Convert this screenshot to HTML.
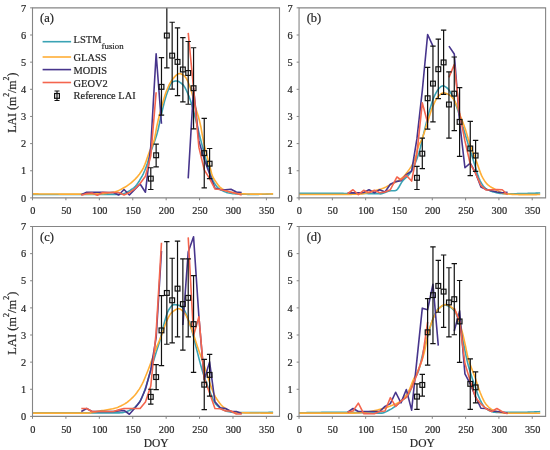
<!DOCTYPE html>
<html lang="en"><head><meta charset="utf-8"><title>LAI time series</title>
<style>
html,body{margin:0;padding:0;background:#fff;}
body{width:550px;height:450px;overflow:hidden;font-family:"Liberation Serif","Times New Roman",serif;}
svg{display:block;}
</style></head><body>
<svg width="550" height="450" viewBox="0 0 550 450" font-family="'Liberation Serif', 'Times New Roman', serif" fill="#262626" stroke="#262626" stroke-width="0.2" paint-order="stroke">
<g id="panel-a">
<clipPath id="clipa"><rect x="32.5" y="7.85" width="247" height="190.05"/></clipPath>
<g clip-path="url(#clipa)">
<polyline points="32.5,194.51 33.84,194.51 35.17,194.51 36.51,194.51 37.85,194.51 39.18,194.51 40.52,194.51 41.86,194.51 43.19,194.51 44.53,194.51 45.87,194.51 47.2,194.51 48.54,194.51 49.88,194.51 51.21,194.51 52.55,194.51 53.89,194.51 55.22,194.51 56.56,194.51 57.9,194.51 59.23,194.51 60.57,194.51 61.91,194.51 63.24,194.51 64.58,194.51 65.91,194.51 67.25,194.51 68.59,194.51 69.92,194.51 71.26,194.51 72.6,194.51 73.93,194.51 75.27,194.51 76.61,194.51 77.94,194.51 79.28,194.5 80.62,194.5 81.95,194.5 83.29,194.5 84.63,194.5 85.96,194.5 87.3,194.5 88.64,194.49 89.97,194.49 91.31,194.49 92.65,194.49 93.98,194.48 95.32,194.48 96.66,194.48 97.99,194.47 99.33,194.47 100.67,194.47 102,194.46 103.34,194.46 104.68,194.45 106.01,194.45 107.35,194.44 108.69,194.43 110.02,194.43 111.36,194.42 112.7,194.41 114.03,194.4 115.37,194.4 116.71,194.39 118.04,194.38 119.38,194.37 120.72,194.28 122.05,194.05 123.39,193.69 124.73,193.21 126.06,192.63 127.4,191.95 128.74,191.2 130.07,190.38 131.41,189.5 132.75,188.59 134.08,187.61 135.42,186.31 136.75,184.69 138.09,182.8 139.43,180.7 140.76,178.43 142.1,176.04 143.44,173.52 144.77,170.54 146.11,167.14 147.45,163.34 148.78,158.85 150.12,154.2 151.46,149.99 152.79,146.22 154.13,142.6 155.47,138.83 156.8,134.62 158.14,129.52 159.48,123.27 160.81,116.89 162.15,111.15 163.49,105.48 164.82,100.17 166.16,95.68 167.5,91.99 168.83,88.42 170.17,85.28 171.51,82.92 172.84,81.7 174.18,81.22 175.52,80.93 176.85,80.94 178.19,81.33 179.53,82.04 180.86,82.99 182.2,84.1 183.54,85.39 184.87,87.4 186.21,90 187.55,92.94 188.88,96.08 190.22,99.83 191.56,104.05 192.89,108.62 194.23,113.74 195.57,119.18 196.9,124.65 198.24,129.95 199.57,135.31 200.91,140.67 202.25,145.92 203.58,150.93 204.92,155.79 206.26,160.58 207.59,165.19 208.93,169.52 210.27,173.47 211.6,177.08 212.94,180.27 214.28,182.82 215.61,185.05 216.95,186.89 218.29,188.19 219.62,189.15 220.96,189.94 222.3,190.61 223.63,191.24 224.97,191.84 226.31,192.37 227.64,192.74 228.98,193 230.32,193.25 231.65,193.46 232.99,193.65 234.33,193.81 235.66,193.94 237,194.04 238.34,194.1 239.67,194.14 241.01,194.18 242.35,194.22 243.68,194.25 245.02,194.28 246.36,194.31 247.69,194.33 249.03,194.35 250.37,194.36 251.7,194.37 253.04,194.37 254.38,194.37 255.71,194.36 257.05,194.35 258.39,194.33 259.72,194.31 261.06,194.29 262.4,194.26 263.73,194.23 265.07,194.19 266.4,194.14 267.74,194.1 269.08,194.04 270.41,193.99 271.75,193.93 273.09,193.86" fill="none" stroke="#3AA3B4" stroke-width="1.6" stroke-linejoin="round" stroke-linecap="butt"/>
<polyline points="32.5,193.83 33.84,193.85 35.17,193.87 36.51,193.89 37.85,193.91 39.18,193.93 40.52,193.94 41.86,193.96 43.19,193.97 44.53,193.99 45.87,194 47.2,194.01 48.54,194.02 49.88,194.03 51.21,194.04 52.55,194.05 53.89,194.06 55.22,194.06 56.56,194.07 57.9,194.07 59.23,194.08 60.57,194.08 61.91,194.09 63.24,194.09 64.58,194.09 65.91,194.09 67.25,194.1 68.59,194.1 69.92,194.1 71.26,194.1 72.6,194.1 73.93,194.1 75.27,194.1 76.61,194.09 77.94,194.09 79.28,194.08 80.62,194.07 81.95,194.07 83.29,194.06 84.63,194.04 85.96,194.03 87.3,194.02 88.64,194 89.97,193.98 91.31,193.97 92.65,193.95 93.98,193.93 95.32,193.9 96.66,193.88 97.99,193.85 99.33,193.83 100.67,193.79 102,193.71 103.34,193.62 104.68,193.49 106.01,193.34 107.35,193.18 108.69,192.99 110.02,192.78 111.36,192.56 112.7,192.32 114.03,192.06 115.37,191.7 116.71,191.25 118.04,190.72 119.38,190.12 120.72,189.47 122.05,188.77 123.39,188.05 124.73,187.31 126.06,186.53 127.4,185.66 128.74,184.72 130.07,183.69 131.41,182.59 132.75,181.41 134.08,180.16 135.42,178.84 136.75,177.41 138.09,175.86 139.43,174.17 140.76,172.3 142.1,170.23 143.44,167.87 144.77,164.79 146.11,161.19 147.45,157.36 148.78,153.57 150.12,150.12 151.46,147.3 152.79,144.5 154.13,140.54 155.47,133.85 156.8,126.38 158.14,120.3 159.48,114.82 160.81,109.71 162.15,104.88 163.49,100.16 164.82,95.69 166.16,91.78 167.5,88.5 168.83,85.48 170.17,82.84 171.51,80.68 172.84,78.99 174.18,77.37 175.52,75.89 176.85,74.67 178.19,73.85 179.53,73.55 180.86,73.79 182.2,74.44 183.54,75.36 184.87,76.45 186.21,78.22 187.55,80.81 188.88,83.96 190.22,87.4 191.56,91.6 192.89,96.78 194.23,102.29 195.57,107.49 196.9,112.02 198.24,116.34 199.57,121.08 200.91,126.98 202.25,134.54 203.58,141.7 204.92,147.58 206.26,152.98 207.59,158.08 208.93,163.04 210.27,168.03 211.6,173.42 212.94,177.2 214.28,179.51 215.61,181.4 216.95,183.37 218.29,185.28 219.62,186.88 220.96,188 222.3,188.91 223.63,189.65 224.97,190.26 226.31,190.8 227.64,191.27 228.98,191.69 230.32,192.04 231.65,192.34 232.99,192.63 234.33,192.9 235.66,193.14 237,193.35 238.34,193.52 239.67,193.65 241.01,193.73 242.35,193.8 243.68,193.86 245.02,193.92 246.36,193.97 247.69,194.02 249.03,194.05 250.37,194.08 251.7,194.09 253.04,194.1 254.38,194.1 255.71,194.1 257.05,194.1 258.39,194.09 259.72,194.09 261.06,194.08 262.4,194.07 263.73,194.06 265.07,194.05 266.4,194.03 267.74,194 269.08,193.97 270.41,193.94 271.75,193.9 273.09,193.85" fill="none" stroke="#FFAE35" stroke-width="1.6" stroke-linejoin="round" stroke-linecap="butt"/>
<polyline points="81.29,194.64 86.63,192.2 91.98,192.2 97.33,192.2 102.67,192.2 108.02,192.47 113.36,192.47 118.71,194.99 124.06,189.48 129.4,194.99 134.75,189.48 140.1,184.05 145.44,192.2 150.79,146.31 156.14,53.73 161.48,123.78" fill="none" stroke="#47358C" stroke-width="1.6" stroke-linejoin="round" stroke-linecap="butt"/>
<polyline points="188.21,178.35 193.56,88.21 198.91,140.88 204.25,159.35 209.6,174.01 214.95,188.4 220.29,189.48 225.64,189.75 230.99,189.21 236.33,191.93 241.68,192.47" fill="none" stroke="#47358C" stroke-width="1.6" stroke-linejoin="round" stroke-linecap="butt"/>
<polyline points="81.29,195.19 86.63,193.56 91.98,193.01 97.33,195.19 102.67,192.47 108.02,192.47 113.36,192.47 118.71,192.47 124.06,194.99 129.4,192.47 134.75,188.94 140.1,183.51 145.44,176.18 150.79,155.82 156.14,92.29" fill="none" stroke="#F4654E" stroke-width="1.6" stroke-linejoin="round" stroke-linecap="butt"/>
<polyline points="188.21,32.83 193.56,88.21 198.91,147.4 204.25,169.94 209.6,178.62 214.95,188.94 220.29,189.48 225.64,190.84 230.99,192.2 236.33,193.56 241.68,194.91" fill="none" stroke="#F4654E" stroke-width="1.6" stroke-linejoin="round" stroke-linecap="butt"/>
<path d="M150.79 167.76V189.48M148.09 167.76h5.4M148.09 189.48h5.4" stroke="#111" stroke-width="1.2" fill="none"/>
<rect x="148.39" y="176.22" width="4.8" height="4.8" fill="none" stroke="#111" stroke-width="1.2"/>
<path d="M156.14 144.14V166.95M153.44 144.14h5.4M153.44 166.95h5.4" stroke="#111" stroke-width="1.2" fill="none"/>
<rect x="153.74" y="152.87" width="4.8" height="4.8" fill="none" stroke="#111" stroke-width="1.2"/>
<path d="M161.48 57.53V115.09M158.78 57.53h5.4M158.78 115.09h5.4" stroke="#111" stroke-width="1.2" fill="none"/>
<rect x="159.08" y="84.46" width="4.8" height="4.8" fill="none" stroke="#111" stroke-width="1.2"/>
<path d="M166.83 -0.3V67.85M164.13 -0.3h5.4M164.13 67.85h5.4" stroke="#111" stroke-width="1.2" fill="none"/>
<rect x="164.43" y="33.14" width="4.8" height="4.8" fill="none" stroke="#111" stroke-width="1.2"/>
<path d="M172.17 22.24V89.03M169.47 22.24h5.4M169.47 89.03h5.4" stroke="#111" stroke-width="1.2" fill="none"/>
<rect x="169.77" y="53.23" width="4.8" height="4.8" fill="none" stroke="#111" stroke-width="1.2"/>
<path d="M177.52 27.94V95.54M174.82 27.94h5.4M174.82 95.54h5.4" stroke="#111" stroke-width="1.2" fill="none"/>
<rect x="175.12" y="59.48" width="4.8" height="4.8" fill="none" stroke="#111" stroke-width="1.2"/>
<path d="M182.87 37.72V101.79M180.17 37.72h5.4M180.17 101.79h5.4" stroke="#111" stroke-width="1.2" fill="none"/>
<rect x="180.47" y="67.08" width="4.8" height="4.8" fill="none" stroke="#111" stroke-width="1.2"/>
<path d="M188.21 41.52V104.23M185.51 41.52h5.4M185.51 104.23h5.4" stroke="#111" stroke-width="1.2" fill="none"/>
<rect x="185.81" y="70.61" width="4.8" height="4.8" fill="none" stroke="#111" stroke-width="1.2"/>
<path d="M193.56 47.76V128.94M190.86 47.76h5.4M190.86 128.94h5.4" stroke="#111" stroke-width="1.2" fill="none"/>
<rect x="191.16" y="85.81" width="4.8" height="4.8" fill="none" stroke="#111" stroke-width="1.2"/>
<path d="M204.25 118.35V187.85M201.55 118.35h5.4M201.55 187.85h5.4" stroke="#111" stroke-width="1.2" fill="none"/>
<rect x="201.85" y="150.7" width="4.8" height="4.8" fill="none" stroke="#111" stroke-width="1.2"/>
<path d="M209.6 148.49V178.62M206.9 148.49h5.4M206.9 178.62h5.4" stroke="#111" stroke-width="1.2" fill="none"/>
<rect x="207.2" y="161.29" width="4.8" height="4.8" fill="none" stroke="#111" stroke-width="1.2"/>
</g>
<path d="M32.5 7.85H279.5V197.9H32.5Z" fill="none" stroke="#858585" stroke-width="1.1"/>
<path d="M32.5 197.9h-2.4M32.5 170.75h-2.4M32.5 143.6h-2.4M32.5 116.45h-2.4M32.5 89.3h-2.4M32.5 62.15h-2.4M32.5 35h-2.4M32.5 7.85h-2.4M32.5 197.9v2.4M65.91 197.9v2.4M99.33 197.9v2.4M132.75 197.9v2.4M166.16 197.9v2.4M199.57 197.9v2.4M232.99 197.9v2.4M266.4 197.9v2.4" stroke="#858585" stroke-width="1" fill="none"/>
<text x="26.2" y="201.6" text-anchor="end" font-size="10.3">0</text>
<text x="26.2" y="174.45" text-anchor="end" font-size="10.3">1</text>
<text x="26.2" y="147.3" text-anchor="end" font-size="10.3">2</text>
<text x="26.2" y="120.15" text-anchor="end" font-size="10.3">3</text>
<text x="26.2" y="93" text-anchor="end" font-size="10.3">4</text>
<text x="26.2" y="65.85" text-anchor="end" font-size="10.3">5</text>
<text x="26.2" y="38.7" text-anchor="end" font-size="10.3">6</text>
<text x="26.2" y="11.55" text-anchor="end" font-size="10.3">7</text>
<text x="32.9" y="214.1" text-anchor="middle" font-size="10.3">0</text>
<text x="66.31" y="214.1" text-anchor="middle" font-size="10.3">50</text>
<text x="99.73" y="214.1" text-anchor="middle" font-size="10.3">100</text>
<text x="133.15" y="214.1" text-anchor="middle" font-size="10.3">150</text>
<text x="166.56" y="214.1" text-anchor="middle" font-size="10.3">200</text>
<text x="199.97" y="214.1" text-anchor="middle" font-size="10.3">250</text>
<text x="233.39" y="214.1" text-anchor="middle" font-size="10.3">300</text>
<text x="266.8" y="214.1" text-anchor="middle" font-size="10.3">350</text>
<text x="40.1" y="22.05" font-size="12.5">(a)</text>
</g>
<g id="panel-b">
<clipPath id="clipb"><rect x="299.05" y="7.85" width="246.55" height="190.05"/></clipPath>
<g clip-path="url(#clipb)">
<polyline points="299.05,193.42 300.38,193.42 301.71,193.42 303.05,193.42 304.38,193.42 305.71,193.42 307.04,193.42 308.38,193.42 309.71,193.42 311.04,193.42 312.37,193.42 313.71,193.42 315.04,193.42 316.37,193.42 317.7,193.42 319.04,193.42 320.37,193.42 321.7,193.42 323.03,193.42 324.37,193.42 325.7,193.42 327.03,193.42 328.36,193.42 329.7,193.42 331.03,193.42 332.36,193.42 333.69,193.42 335.02,193.42 336.36,193.42 337.69,193.42 339.02,193.42 340.35,193.42 341.69,193.42 343.02,193.42 344.35,193.43 345.68,193.43 347.02,193.44 348.35,193.44 349.68,193.45 351.01,193.45 352.35,193.46 353.68,193.47 355.01,193.48 356.34,193.48 357.68,193.49 359.01,193.5 360.34,193.51 361.67,193.52 363.01,193.53 364.34,193.55 365.67,193.56 367,193.57 368.33,193.59 369.67,193.62 371,193.65 372.33,193.68 373.66,193.72 375,193.75 376.33,193.78 377.66,193.8 378.99,193.82 380.33,193.83 381.66,193.76 382.99,193.35 384.32,192.74 385.66,192.2 386.99,191.71 388.32,191.23 389.65,190.89 390.99,190.78 392.32,190.72 393.65,190.68 394.98,190.62 396.32,190.34 397.65,189.05 398.98,187 400.31,184.6 401.64,182.3 402.98,180.49 404.31,179.08 405.64,177.83 406.97,176.61 408.31,175.28 409.64,173.72 410.97,171.79 412.3,169.42 413.64,166.7 414.97,163.75 416.3,160.46 417.63,156.77 418.97,152.67 420.3,147.89 421.63,142.33 422.96,136.58 424.3,131.11 425.63,125.57 426.96,120.1 428.29,114.92 429.63,110.24 430.96,105.76 432.29,101.55 433.62,97.85 434.95,94.86 436.29,92.31 437.62,90.13 438.95,88.47 440.28,87.23 441.62,86.2 442.95,85.77 444.28,86.07 445.61,86.83 446.95,87.84 448.28,89.07 449.61,90.92 450.94,93.23 452.28,95.83 453.61,98.62 454.94,101.96 456.27,105.65 457.61,109.52 458.94,113.69 460.27,118.03 461.6,122.42 462.94,126.77 464.27,131.2 465.6,135.65 466.93,140.07 468.26,144.39 469.6,148.65 470.93,152.86 472.26,157.02 473.59,161.18 474.93,165.61 476.26,170.1 477.59,174.36 478.92,178.11 480.26,181.07 481.59,183.43 482.92,185.52 484.25,187.22 485.59,188.4 486.92,189.23 488.25,189.96 489.58,190.59 490.92,191.14 492.25,191.61 493.58,192 494.91,192.33 496.25,192.61 497.58,192.87 498.91,193.12 500.24,193.35 501.57,193.55 502.91,193.7 504.24,193.79 505.57,193.83 506.9,193.82 508.24,193.82 509.57,193.8 510.9,193.79 512.23,193.77 513.57,193.74 514.9,193.72 516.23,193.69 517.56,193.66 518.9,193.63 520.23,193.6 521.56,193.57 522.89,193.54 524.23,193.51 525.56,193.48 526.89,193.44 528.22,193.41 529.56,193.37 530.89,193.33 532.22,193.29 533.55,193.25 534.88,193.2 536.22,193.16 537.55,193.11 538.88,193.06 540.21,193.01" fill="none" stroke="#3AA3B4" stroke-width="1.6" stroke-linejoin="round" stroke-linecap="butt"/>
<polyline points="299.05,194.51 300.38,194.51 301.71,194.51 303.05,194.51 304.38,194.51 305.71,194.51 307.04,194.51 308.38,194.51 309.71,194.51 311.04,194.51 312.37,194.51 313.71,194.51 315.04,194.51 316.37,194.51 317.7,194.51 319.04,194.51 320.37,194.51 321.7,194.51 323.03,194.51 324.37,194.51 325.7,194.51 327.03,194.51 328.36,194.51 329.7,194.51 331.03,194.51 332.36,194.51 333.69,194.51 335.02,194.51 336.36,194.51 337.69,194.51 339.02,194.51 340.35,194.5 341.69,194.5 343.02,194.49 344.35,194.48 345.68,194.46 347.02,194.44 348.35,194.41 349.68,194.39 351.01,194.36 352.35,194.32 353.68,194.28 355.01,194.24 356.34,194.2 357.68,194.15 359.01,194.1 360.34,194.01 361.67,193.85 363.01,193.64 364.34,193.38 365.67,193.08 367,192.76 368.33,192.42 369.67,192.07 371,191.72 372.33,191.38 373.66,191.05 375,190.71 376.33,190.35 377.66,189.98 378.99,189.58 380.33,189.16 381.66,188.72 382.99,188.24 384.32,187.72 385.66,187.11 386.99,186.43 388.32,185.74 389.65,185.09 390.99,184.47 392.32,183.86 393.65,183.23 394.98,182.57 396.32,181.84 397.65,181.05 398.98,180.18 400.31,179.23 401.64,178.19 402.98,177.02 404.31,175.71 405.64,174.24 406.97,172.61 408.31,170.84 409.64,168.91 410.97,166.85 412.3,164.6 413.64,162.02 414.97,158.94 416.3,154.77 417.63,148.67 418.97,144.72 420.3,142.29 421.63,139.85 422.96,136.49 424.3,132.49 425.63,128.18 426.96,123.92 428.29,119.8 429.63,115.53 430.96,111.38 432.29,107.69 433.62,104.59 434.95,101.7 436.29,99.14 437.62,97.11 438.95,95.71 440.28,94.48 441.62,93.49 442.95,92.91 444.28,92.87 445.61,93.17 446.95,93.7 448.28,94.4 449.61,95.21 450.94,96.15 452.28,97.54 453.61,99.32 454.94,101.43 456.27,104.37 457.61,108.04 458.94,111.98 460.27,115.72 461.6,119.19 462.94,122.64 464.27,126.21 465.6,130.03 466.93,134.39 468.26,139.02 469.6,143.23 470.93,147.01 472.26,150.57 473.59,154.01 474.93,157.42 476.26,160.9 477.59,164.61 478.92,168.58 480.26,172.39 481.59,175.65 482.92,178.17 484.25,180.41 485.59,182.35 486.92,183.95 488.25,185.17 489.58,186.18 490.92,187.05 492.25,187.82 493.58,188.52 494.91,189.21 496.25,189.93 497.58,190.66 498.91,191.4 500.24,192.09 501.57,192.71 502.91,193.23 504.24,193.61 505.57,193.83 506.9,193.95 508.24,194.06 509.57,194.16 510.9,194.25 512.23,194.34 513.57,194.41 514.9,194.48 516.23,194.53 517.56,194.57 518.9,194.61 520.23,194.63 521.56,194.64 522.89,194.64 524.23,194.64 525.56,194.64 526.89,194.64 528.22,194.64 529.56,194.63 530.89,194.63 532.22,194.62 533.55,194.61 534.88,194.59 536.22,194.58 537.55,194.56 538.88,194.53 540.21,194.51" fill="none" stroke="#FFAE35" stroke-width="1.6" stroke-linejoin="round" stroke-linecap="butt"/>
<polyline points="347.68,192.88 353.01,192.88 358.34,192.88 363.67,192.47 369,189.75 374.33,192.74 379.66,189.75 384.99,191.93 390.32,184.33 395.65,181.61 400.98,180.8 406.31,174.55 411.64,171.02 416.97,138.44 422.3,90.66 427.63,34.46 432.96,46.13" fill="none" stroke="#47358C" stroke-width="1.6" stroke-linejoin="round" stroke-linecap="butt"/>
<polyline points="448.95,46.13 454.27,54 459.6,121.88 464.93,167.76 470.26,163.15 475.59,172.92 480.92,187.04 486.25,189.48 491.58,190.84 496.91,191.93 502.24,192.74 507.57,192.2" fill="none" stroke="#47358C" stroke-width="1.6" stroke-linejoin="round" stroke-linecap="butt"/>
<polyline points="347.68,193.56 353.01,189.75 358.34,194.64 363.67,190.3 369,192.74 374.33,190.3 379.66,192.74 384.99,191.93 390.32,189.75 396.98,176.99 400.98,179.98 406.31,175.37 411.64,181.07 416.97,153.1 422.3,102.88 427.63,122.69" fill="none" stroke="#F4654E" stroke-width="1.6" stroke-linejoin="round" stroke-linecap="butt"/>
<polyline points="448.95,77.35 454.27,64.59 459.6,113.73 464.93,140.88 470.26,163.96 475.59,173.47 480.92,185.41 486.25,190.03 491.58,189.75 496.91,189.48 502.24,189.75 507.57,194.64" fill="none" stroke="#F4654E" stroke-width="1.6" stroke-linejoin="round" stroke-linecap="butt"/>
<path d="M416.97 166.41V189.48M414.27 166.41h5.4M414.27 189.48h5.4" stroke="#111" stroke-width="1.2" fill="none"/>
<rect x="414.57" y="175.41" width="4.8" height="4.8" fill="none" stroke="#111" stroke-width="1.2"/>
<path d="M422.3 138.17V168.58M419.6 138.17h5.4M419.6 168.58h5.4" stroke="#111" stroke-width="1.2" fill="none"/>
<rect x="419.9" y="151.25" width="4.8" height="4.8" fill="none" stroke="#111" stroke-width="1.2"/>
<path d="M427.63 67.31V129.21M424.93 67.31h5.4M424.93 129.21h5.4" stroke="#111" stroke-width="1.2" fill="none"/>
<rect x="425.23" y="95.86" width="4.8" height="4.8" fill="none" stroke="#111" stroke-width="1.2"/>
<path d="M432.96 46.13V121.88M430.26 46.13h5.4M430.26 121.88h5.4" stroke="#111" stroke-width="1.2" fill="none"/>
<rect x="430.56" y="81.2" width="4.8" height="4.8" fill="none" stroke="#111" stroke-width="1.2"/>
<path d="M438.29 39.07V98.53M435.59 39.07h5.4M435.59 98.53h5.4" stroke="#111" stroke-width="1.2" fill="none"/>
<rect x="435.89" y="66.81" width="4.8" height="4.8" fill="none" stroke="#111" stroke-width="1.2"/>
<path d="M443.62 30.11V94.46M440.92 30.11h5.4M440.92 94.46h5.4" stroke="#111" stroke-width="1.2" fill="none"/>
<rect x="441.22" y="60.02" width="4.8" height="4.8" fill="none" stroke="#111" stroke-width="1.2"/>
<path d="M448.95 71.92V138.17M446.25 71.92h5.4M446.25 138.17h5.4" stroke="#111" stroke-width="1.2" fill="none"/>
<rect x="446.55" y="102.1" width="4.8" height="4.8" fill="none" stroke="#111" stroke-width="1.2"/>
<path d="M454.27 56.99V130.57M451.57 56.99h5.4M451.57 130.57h5.4" stroke="#111" stroke-width="1.2" fill="none"/>
<rect x="451.87" y="91.24" width="4.8" height="4.8" fill="none" stroke="#111" stroke-width="1.2"/>
<path d="M459.6 87.67V156.36M456.9 87.67h5.4M456.9 156.36h5.4" stroke="#111" stroke-width="1.2" fill="none"/>
<rect x="457.2" y="119.48" width="4.8" height="4.8" fill="none" stroke="#111" stroke-width="1.2"/>
<path d="M470.26 121.34V175.64M467.56 121.34h5.4M467.56 175.64h5.4" stroke="#111" stroke-width="1.2" fill="none"/>
<rect x="467.86" y="146.09" width="4.8" height="4.8" fill="none" stroke="#111" stroke-width="1.2"/>
<path d="M475.59 140.34V171.29M472.89 140.34h5.4M472.89 171.29h5.4" stroke="#111" stroke-width="1.2" fill="none"/>
<rect x="473.19" y="153.15" width="4.8" height="4.8" fill="none" stroke="#111" stroke-width="1.2"/>
</g>
<path d="M299.05 7.85H545.6V197.9H299.05Z" fill="none" stroke="#858585" stroke-width="1.1"/>
<path d="M299.05 197.9h-2.4M299.05 170.75h-2.4M299.05 143.6h-2.4M299.05 116.45h-2.4M299.05 89.3h-2.4M299.05 62.15h-2.4M299.05 35h-2.4M299.05 7.85h-2.4M299.05 197.9v2.4M332.36 197.9v2.4M365.67 197.9v2.4M398.98 197.9v2.4M432.29 197.9v2.4M465.6 197.9v2.4M498.91 197.9v2.4M532.22 197.9v2.4" stroke="#858585" stroke-width="1" fill="none"/>
<text x="292.75" y="201.6" text-anchor="end" font-size="10.3">0</text>
<text x="292.75" y="174.45" text-anchor="end" font-size="10.3">1</text>
<text x="292.75" y="147.3" text-anchor="end" font-size="10.3">2</text>
<text x="292.75" y="120.15" text-anchor="end" font-size="10.3">3</text>
<text x="292.75" y="93" text-anchor="end" font-size="10.3">4</text>
<text x="292.75" y="65.85" text-anchor="end" font-size="10.3">5</text>
<text x="292.75" y="38.7" text-anchor="end" font-size="10.3">6</text>
<text x="292.75" y="11.55" text-anchor="end" font-size="10.3">7</text>
<text x="299.45" y="214.1" text-anchor="middle" font-size="10.3">0</text>
<text x="332.76" y="214.1" text-anchor="middle" font-size="10.3">50</text>
<text x="366.07" y="214.1" text-anchor="middle" font-size="10.3">100</text>
<text x="399.38" y="214.1" text-anchor="middle" font-size="10.3">150</text>
<text x="432.69" y="214.1" text-anchor="middle" font-size="10.3">200</text>
<text x="466" y="214.1" text-anchor="middle" font-size="10.3">250</text>
<text x="499.31" y="214.1" text-anchor="middle" font-size="10.3">300</text>
<text x="532.62" y="214.1" text-anchor="middle" font-size="10.3">350</text>
<text x="306.65" y="22.05" font-size="12.5">(b)</text>
</g>
<g id="panel-c">
<clipPath id="clipc"><rect x="32.5" y="226.5" width="247" height="189.9"/></clipPath>
<g clip-path="url(#clipc)">
<polyline points="32.5,412.87 33.84,412.87 35.17,412.87 36.51,412.87 37.85,412.87 39.18,412.87 40.52,412.87 41.86,412.87 43.19,412.87 44.53,412.87 45.87,412.87 47.2,412.87 48.54,412.87 49.88,412.87 51.21,412.87 52.55,412.87 53.89,412.87 55.22,412.87 56.56,412.87 57.9,412.87 59.23,412.87 60.57,412.87 61.91,412.87 63.24,412.87 64.58,412.87 65.91,412.87 67.25,412.87 68.59,412.87 69.92,412.87 71.26,412.87 72.6,412.87 73.93,412.87 75.27,412.87 76.61,412.87 77.94,412.87 79.28,412.87 80.62,412.87 81.95,412.87 83.29,412.87 84.63,412.87 85.96,412.87 87.3,412.87 88.64,412.87 89.97,412.87 91.31,412.87 92.65,412.87 93.98,412.87 95.32,412.87 96.66,412.87 97.99,412.87 99.33,412.87 100.67,412.87 102,412.87 103.34,412.87 104.68,412.87 106.01,412.87 107.35,412.87 108.69,412.87 110.02,412.87 111.36,412.87 112.7,412.87 114.03,412.87 115.37,412.87 116.71,412.87 118.04,412.87 119.38,412.87 120.72,412.82 122.05,412.66 123.39,412.42 124.73,412.08 126.06,411.68 127.4,411.2 128.74,410.67 130.07,410.08 131.41,409.46 132.75,408.8 134.08,407.97 135.42,406.83 136.75,405.42 138.09,403.77 139.43,401.92 140.76,399.82 142.1,397.06 143.44,393.74 144.77,390.08 146.11,386.14 147.45,381.54 148.78,376.99 150.12,372.47 151.46,367.94 152.79,363.43 154.13,358.95 155.47,354.55 156.8,350.34 158.14,346.25 159.48,341.95 160.81,337.07 162.15,331.43 163.49,325.96 164.82,321.05 166.16,316.24 167.5,312.26 168.83,309.72 170.17,307.65 171.51,305.95 172.84,304.87 174.18,304.64 175.52,304.73 176.85,304.91 178.19,305.15 179.53,305.56 180.86,306.29 182.2,307.29 183.54,308.67 184.87,311.09 186.21,314.27 187.55,317.8 188.88,321.34 190.22,325.26 191.56,329.58 192.89,334.2 194.23,339.4 195.57,345.04 196.9,350.43 198.24,355.67 199.57,360.87 200.91,365.87 202.25,370.55 203.58,374.8 204.92,378.79 206.26,382.57 207.59,386.14 208.93,389.55 210.27,392.8 211.6,396.04 212.94,399.19 214.28,401.91 215.61,403.89 216.95,405.31 218.29,406.47 219.62,407.52 220.96,408.48 222.3,409.32 223.63,410.02 224.97,410.63 226.31,411.15 227.64,411.52 228.98,411.78 230.32,412.02 231.65,412.23 232.99,412.4 234.33,412.53 235.66,412.59 237,412.6 238.34,412.6 239.67,412.6 241.01,412.6 242.35,412.6 243.68,412.6 245.02,412.6 246.36,412.6 247.69,412.6 249.03,412.6 250.37,412.6 251.7,412.6 253.04,412.6 254.38,412.6 255.71,412.6 257.05,412.59 258.39,412.58 259.72,412.57 261.06,412.55 262.4,412.53 263.73,412.51 265.07,412.49 266.4,412.47 267.74,412.45 269.08,412.42 270.41,412.4 271.75,412.37 273.09,412.34" fill="none" stroke="#3AA3B4" stroke-width="1.6" stroke-linejoin="round" stroke-linecap="butt"/>
<polyline points="32.5,413.14 33.84,413.14 35.17,413.14 36.51,413.14 37.85,413.14 39.18,413.14 40.52,413.14 41.86,413.14 43.19,413.14 44.53,413.14 45.87,413.14 47.2,413.14 48.54,413.14 49.88,413.14 51.21,413.14 52.55,413.14 53.89,413.14 55.22,413.14 56.56,413.14 57.9,413.14 59.23,413.14 60.57,413.14 61.91,413.14 63.24,413.14 64.58,413.14 65.91,413.14 67.25,413.14 68.59,413.14 69.92,413.14 71.26,413.14 72.6,413.14 73.93,413.14 75.27,413.14 76.61,413.14 77.94,413.14 79.28,413.14 80.62,413.14 81.95,413.14 83.29,413.14 84.63,413.14 85.96,413.14 87.3,413.11 88.64,413.01 89.97,412.85 91.31,412.65 92.65,412.42 93.98,412.16 95.32,411.89 96.66,411.61 97.99,411.34 99.33,411.09 100.67,410.86 102,410.65 103.34,410.44 104.68,410.23 106.01,410.02 107.35,409.8 108.69,409.57 110.02,409.32 111.36,409.05 112.7,408.76 114.03,408.43 115.37,408.07 116.71,407.65 118.04,407.15 119.38,406.59 120.72,405.98 122.05,405.32 123.39,404.61 124.73,403.85 126.06,402.99 127.4,402.04 128.74,401 130.07,399.88 131.41,398.68 132.75,397.41 134.08,396.01 135.42,394.43 136.75,392.7 138.09,390.84 139.43,388.87 140.76,386.65 142.1,384.13 143.44,381.32 144.77,378.26 146.11,375.02 147.45,371.69 148.78,368.3 150.12,364.7 151.46,360.97 152.79,357.19 154.13,353.48 155.47,349.93 156.8,346.61 158.14,343.44 159.48,340.3 160.81,337.08 162.15,333.67 163.49,329.78 164.82,325.75 166.16,322.2 167.5,319.34 168.83,316.67 170.17,314.37 171.51,312.65 172.84,311.54 174.18,310.56 175.52,309.72 176.85,309.09 178.19,308.75 179.53,308.79 180.86,309.44 182.2,310.57 183.54,312 184.87,313.55 186.21,315.67 187.55,318.46 188.88,321.65 190.22,324.98 191.56,328.61 192.89,332.66 194.23,336.78 195.57,340.86 196.9,344.99 198.24,349 199.57,352.76 200.91,356.33 202.25,359.91 203.58,363.65 204.92,367.75 206.26,371.98 207.59,376.03 208.93,380.16 210.27,384.23 211.6,388.08 212.94,391.58 214.28,394.57 215.61,397.08 216.95,399.27 218.29,401.24 219.62,403.07 220.96,404.71 222.3,406.09 223.63,407.25 224.97,408.28 226.31,409.17 227.64,409.89 228.98,410.51 230.32,411.09 231.65,411.59 232.99,411.97 234.33,412.2 235.66,412.33 237,412.44 238.34,412.54 239.67,412.63 241.01,412.7 242.35,412.76 243.68,412.81 245.02,412.84 246.36,412.87 247.69,412.9 249.03,412.92 250.37,412.94 251.7,412.96 253.04,412.98 254.38,413 255.71,413.02 257.05,413.04 258.39,413.05 259.72,413.07 261.06,413.08 262.4,413.09 263.73,413.11 265.07,413.11 266.4,413.12 267.74,413.13 269.08,413.14 270.41,413.14 271.75,413.14 273.09,413.14" fill="none" stroke="#FFAE35" stroke-width="1.6" stroke-linejoin="round" stroke-linecap="butt"/>
<polyline points="81.29,411.52 86.63,408.53 91.98,411.52 97.33,411.52 102.67,411.52 108.02,411.52 113.36,411.52 118.71,410.97 124.06,410.43 129.4,414.23 134.75,408.26 140.1,401.48 145.44,389.27 150.79,369.74 156.14,337.73 161.48,250.92" fill="none" stroke="#47358C" stroke-width="1.6" stroke-linejoin="round" stroke-linecap="butt"/>
<polyline points="182.87,324.98 188.21,252 193.56,236.81 198.91,316.84 204.25,379.78 209.6,361.87 214.95,401.75 220.29,407.72 225.64,408.53 230.99,411.52 236.33,411.52 241.68,413.42" fill="none" stroke="#47358C" stroke-width="1.6" stroke-linejoin="round" stroke-linecap="butt"/>
<polyline points="81.29,408.53 86.63,408.53 91.98,411.52 97.33,411.52 102.67,411.52 108.02,411.52 113.36,411.52 118.71,409.89 124.06,408.53 129.4,408.53 134.75,408.53 140.1,408.53 145.44,402.02 150.79,386.02 156.14,332.3 161.48,242.78" fill="none" stroke="#F4654E" stroke-width="1.6" stroke-linejoin="round" stroke-linecap="butt"/>
<polyline points="188.21,237.35 193.56,335.56 198.91,316.84 204.25,378.42 209.6,393.07 214.95,408.53 220.29,408.8 225.64,410.97 230.99,410.97 236.33,413.96 241.68,413.96" fill="none" stroke="#F4654E" stroke-width="1.6" stroke-linejoin="round" stroke-linecap="butt"/>
<path d="M150.79 389.27V404.19M148.09 389.27h5.4M148.09 404.19h5.4" stroke="#111" stroke-width="1.2" fill="none"/>
<rect x="148.39" y="394.47" width="4.8" height="4.8" fill="none" stroke="#111" stroke-width="1.2"/>
<path d="M156.14 364.58V389.54M153.44 364.58h5.4M153.44 389.54h5.4" stroke="#111" stroke-width="1.2" fill="none"/>
<rect x="153.74" y="374.66" width="4.8" height="4.8" fill="none" stroke="#111" stroke-width="1.2"/>
<path d="M161.48 295.68V365.67M158.78 295.68h5.4M158.78 365.67h5.4" stroke="#111" stroke-width="1.2" fill="none"/>
<rect x="159.08" y="328" width="4.8" height="4.8" fill="none" stroke="#111" stroke-width="1.2"/>
<path d="M166.83 241.69V344.24M164.13 241.69h5.4M164.13 344.24h5.4" stroke="#111" stroke-width="1.2" fill="none"/>
<rect x="164.43" y="290.56" width="4.8" height="4.8" fill="none" stroke="#111" stroke-width="1.2"/>
<path d="M172.17 258.24V342.88M169.47 258.24h5.4M169.47 342.88h5.4" stroke="#111" stroke-width="1.2" fill="none"/>
<rect x="169.77" y="297.89" width="4.8" height="4.8" fill="none" stroke="#111" stroke-width="1.2"/>
<path d="M177.52 241.15V336.91M174.82 241.15h5.4M174.82 336.91h5.4" stroke="#111" stroke-width="1.2" fill="none"/>
<rect x="175.12" y="286.22" width="4.8" height="4.8" fill="none" stroke="#111" stroke-width="1.2"/>
<path d="M182.87 258.78V350.21M180.17 258.78h5.4M180.17 350.21h5.4" stroke="#111" stroke-width="1.2" fill="none"/>
<rect x="180.47" y="301.69" width="4.8" height="4.8" fill="none" stroke="#111" stroke-width="1.2"/>
<path d="M188.21 258.78V336.91M185.51 258.78h5.4M185.51 336.91h5.4" stroke="#111" stroke-width="1.2" fill="none"/>
<rect x="185.81" y="295.45" width="4.8" height="4.8" fill="none" stroke="#111" stroke-width="1.2"/>
<path d="M193.56 275.6V372.45M190.86 275.6h5.4M190.86 372.45h5.4" stroke="#111" stroke-width="1.2" fill="none"/>
<rect x="191.16" y="321.76" width="4.8" height="4.8" fill="none" stroke="#111" stroke-width="1.2"/>
<path d="M204.25 359.43V409.62M201.55 359.43h5.4M201.55 409.62h5.4" stroke="#111" stroke-width="1.2" fill="none"/>
<rect x="201.85" y="382.26" width="4.8" height="4.8" fill="none" stroke="#111" stroke-width="1.2"/>
<path d="M209.6 354.28V396.05M206.9 354.28h5.4M206.9 396.05h5.4" stroke="#111" stroke-width="1.2" fill="none"/>
<rect x="207.2" y="372.49" width="4.8" height="4.8" fill="none" stroke="#111" stroke-width="1.2"/>
</g>
<path d="M32.5 226.5H279.5V416.4H32.5Z" fill="none" stroke="#858585" stroke-width="1.1"/>
<path d="M32.5 416.4h-2.4M32.5 389.27h-2.4M32.5 362.14h-2.4M32.5 335.01h-2.4M32.5 307.89h-2.4M32.5 280.76h-2.4M32.5 253.63h-2.4M32.5 226.5h-2.4M32.5 416.4v2.4M65.91 416.4v2.4M99.33 416.4v2.4M132.75 416.4v2.4M166.16 416.4v2.4M199.57 416.4v2.4M232.99 416.4v2.4M266.4 416.4v2.4" stroke="#858585" stroke-width="1" fill="none"/>
<text x="26.2" y="420.1" text-anchor="end" font-size="10.3">0</text>
<text x="26.2" y="392.97" text-anchor="end" font-size="10.3">1</text>
<text x="26.2" y="365.84" text-anchor="end" font-size="10.3">2</text>
<text x="26.2" y="338.71" text-anchor="end" font-size="10.3">3</text>
<text x="26.2" y="311.59" text-anchor="end" font-size="10.3">4</text>
<text x="26.2" y="284.46" text-anchor="end" font-size="10.3">5</text>
<text x="26.2" y="257.33" text-anchor="end" font-size="10.3">6</text>
<text x="26.2" y="230.2" text-anchor="end" font-size="10.3">7</text>
<text x="32.9" y="432.6" text-anchor="middle" font-size="10.3">0</text>
<text x="66.31" y="432.6" text-anchor="middle" font-size="10.3">50</text>
<text x="99.73" y="432.6" text-anchor="middle" font-size="10.3">100</text>
<text x="133.15" y="432.6" text-anchor="middle" font-size="10.3">150</text>
<text x="166.56" y="432.6" text-anchor="middle" font-size="10.3">200</text>
<text x="199.97" y="432.6" text-anchor="middle" font-size="10.3">250</text>
<text x="233.39" y="432.6" text-anchor="middle" font-size="10.3">300</text>
<text x="266.8" y="432.6" text-anchor="middle" font-size="10.3">350</text>
<text x="40.1" y="240.7" font-size="12.5">(c)</text>
</g>
<g id="panel-d">
<clipPath id="clipd"><rect x="299.05" y="226.5" width="246.55" height="189.9"/></clipPath>
<g clip-path="url(#clipd)">
<polyline points="299.05,412.87 300.38,412.83 301.71,412.8 303.05,412.76 304.38,412.73 305.71,412.7 307.04,412.67 308.38,412.64 309.71,412.61 311.04,412.58 312.37,412.56 313.71,412.53 315.04,412.51 316.37,412.49 317.7,412.47 319.04,412.45 320.37,412.44 321.7,412.42 323.03,412.41 324.37,412.4 325.7,412.38 327.03,412.37 328.36,412.36 329.7,412.36 331.03,412.35 332.36,412.34 333.69,412.34 335.02,412.34 336.36,412.33 337.69,412.33 339.02,412.33 340.35,412.33 341.69,412.34 343.02,412.35 344.35,412.37 345.68,412.39 347.02,412.41 348.35,412.43 349.68,412.46 351.01,412.49 352.35,412.52 353.68,412.56 355.01,412.6 356.34,412.63 357.68,412.67 359.01,412.71 360.34,412.75 361.67,412.79 363.01,412.82 364.34,412.86 365.67,412.9 367,412.93 368.33,412.97 369.67,413 371,413.03 372.33,413.05 373.66,413.08 375,413.1 376.33,413.12 377.66,413.13 378.99,413.14 380.33,413.14 381.66,413.11 382.99,412.88 384.32,412.45 385.66,411.88 386.99,411.22 388.32,410.52 389.65,409.82 390.99,409.13 392.32,408.33 393.65,407.45 394.98,406.5 396.32,405.51 397.65,404.47 398.98,403.31 400.31,402.07 401.64,400.81 402.98,399.63 404.31,398.65 405.64,397.73 406.97,396.67 408.31,395.24 409.64,392.61 410.97,388.72 412.3,384.5 413.64,380.86 414.97,378.2 416.3,375.87 417.63,373.25 418.97,369.64 420.3,364.54 421.63,358.65 422.96,352.83 424.3,347.78 425.63,343.13 426.96,338.62 428.29,334.06 429.63,329.27 430.96,324.6 432.29,320.47 433.62,317.14 434.95,314.08 436.29,311.41 437.62,309.39 438.95,308.15 440.28,307.11 441.62,306.23 442.95,305.58 444.28,305.22 445.61,305.21 446.95,305.48 448.28,305.99 449.61,306.71 450.94,307.63 452.28,308.72 453.61,309.94 454.94,311.45 456.27,314.14 457.61,317.83 458.94,322.19 460.27,326.88 461.6,332.57 462.94,339.57 464.27,346.94 465.6,353.73 466.93,359.85 468.26,365.4 469.6,370.09 470.93,374.35 472.26,378.41 473.59,382.28 474.93,386.03 476.26,389.87 477.59,393.67 478.92,397.18 480.26,400.12 481.59,402.67 482.92,405.03 484.25,406.96 485.59,408.26 486.92,409.14 488.25,409.95 489.58,410.68 490.92,411.29 492.25,411.78 493.58,412.13 494.91,412.31 496.25,412.33 497.58,412.33 498.91,412.33 500.24,412.33 501.57,412.33 502.91,412.33 504.24,412.33 505.57,412.33 506.9,412.33 508.24,412.33 509.57,412.33 510.9,412.33 512.23,412.33 513.57,412.33 514.9,412.33 516.23,412.33 517.56,412.33 518.9,412.33 520.23,412.33 521.56,412.32 522.89,412.3 524.23,412.27 525.56,412.24 526.89,412.2 528.22,412.16 529.56,412.12 530.89,412.07 532.22,412.01 533.55,411.96 534.88,411.9 536.22,411.84 537.55,411.78 538.88,411.72 540.21,411.65" fill="none" stroke="#3AA3B4" stroke-width="1.6" stroke-linejoin="round" stroke-linecap="butt"/>
<polyline points="299.05,413.14 300.38,413.14 301.71,413.14 303.05,413.14 304.38,413.14 305.71,413.14 307.04,413.14 308.38,413.14 309.71,413.14 311.04,413.14 312.37,413.14 313.71,413.14 315.04,413.14 316.37,413.14 317.7,413.14 319.04,413.14 320.37,413.14 321.7,413.14 323.03,413.14 324.37,413.14 325.7,413.14 327.03,413.14 328.36,413.14 329.7,413.14 331.03,413.14 332.36,413.14 333.69,413.14 335.02,413.14 336.36,413.14 337.69,413.14 339.02,413.14 340.35,413.14 341.69,413.14 343.02,413.14 344.35,413.14 345.68,413.14 347.02,413.14 348.35,413.14 349.68,413.14 351.01,413.14 352.35,413.14 353.68,413.13 355.01,413.09 356.34,413.02 357.68,412.93 359.01,412.83 360.34,412.71 361.67,412.57 363.01,412.43 364.34,412.28 365.67,412.13 367,411.98 368.33,411.8 369.67,411.59 371,411.36 372.33,411.11 373.66,410.83 375,410.54 376.33,410.23 377.66,409.91 378.99,409.58 380.33,409.24 381.66,408.9 382.99,408.53 384.32,408.14 385.66,407.72 386.99,407.28 388.32,406.81 389.65,406.32 390.99,405.81 392.32,405.28 393.65,404.76 394.98,404.21 396.32,403.62 397.65,402.97 398.98,402.24 400.31,401.4 401.64,400.42 402.98,399.15 404.31,397.61 405.64,395.83 406.97,393.86 408.31,391.71 409.64,389.05 410.97,385.79 412.3,382.37 413.64,379.23 414.97,376.59 416.3,374.13 417.63,371.5 418.97,368.41 420.3,365.01 421.63,361.26 422.96,357.05 424.3,352.3 425.63,346.15 426.96,338.66 428.29,332.99 429.63,328.3 430.96,324.18 432.29,320.61 433.62,317.49 434.95,314.59 436.29,312.03 437.62,310 438.95,308.58 440.28,307.3 441.62,306.17 442.95,305.29 444.28,304.75 445.61,304.64 446.95,304.85 448.28,305.3 449.61,305.97 450.94,306.83 452.28,307.86 453.61,309.03 454.94,310.35 456.27,312.73 457.61,316.23 458.94,320.38 460.27,324.71 461.6,329.38 462.94,334.73 464.27,340.49 465.6,346.41 466.93,353.1 468.26,359.16 469.6,363.09 470.93,366.48 472.26,370 473.59,373.47 474.93,377.08 476.26,381.06 477.59,385.23 478.92,389.25 480.26,392.8 481.59,395.98 482.92,398.98 484.25,401.61 485.59,403.65 486.92,405.27 488.25,406.73 489.58,408 490.92,409.06 492.25,409.86 493.58,410.42 494.91,410.91 496.25,411.38 497.58,411.8 498.91,412.17 500.24,412.5 501.57,412.76 502.91,412.96 504.24,413.09 505.57,413.14 506.9,413.16 508.24,413.17 509.57,413.18 510.9,413.19 512.23,413.2 513.57,413.21 514.9,413.21 516.23,413.22 517.56,413.23 518.9,413.24 520.23,413.24 521.56,413.25 522.89,413.25 524.23,413.26 525.56,413.26 526.89,413.26 528.22,413.27 529.56,413.27 530.89,413.27 532.22,413.27 533.55,413.28 534.88,413.28 536.22,413.28 537.55,413.28 538.88,413.28 540.21,413.28" fill="none" stroke="#FFAE35" stroke-width="1.6" stroke-linejoin="round" stroke-linecap="butt"/>
<polyline points="347.68,412.06 353.01,408.53 358.34,411.52 363.67,411.52 369,411.52 374.33,411.52 379.66,411.52 384.99,406.36 390.32,403.65 395.65,392.26 400.98,402.84 406.31,389.54 411.64,410.16 416.97,359.43 422.3,308.16 427.63,309.78 432.96,284.28 438.29,345.59" fill="none" stroke="#47358C" stroke-width="1.6" stroke-linejoin="round" stroke-linecap="butt"/>
<polyline points="454.27,330.94 459.6,310.87 464.93,373.81 470.26,383.85 475.59,396.87 480.92,408.26 486.25,408.53 491.58,410.97 496.91,411.52 502.24,412.33 507.57,413.14" fill="none" stroke="#47358C" stroke-width="1.6" stroke-linejoin="round" stroke-linecap="butt"/>
<polyline points="347.68,412.06 353.01,410.97 358.34,403.11 363.67,413.69 369,413.69 374.33,413.69 379.66,411.52 384.99,410.97 390.32,397.68 395.65,406.36 400.98,401.21 406.31,397.41 411.64,387.91 416.97,374.35 422.3,358.62 427.63,321.99" fill="none" stroke="#F4654E" stroke-width="1.6" stroke-linejoin="round" stroke-linecap="butt"/>
<polyline points="454.27,308.16 459.6,321.45 464.93,363.5 470.26,381.13 475.59,397.41 480.92,403.92 486.25,408.8 491.58,411.52 496.91,408.53 502.24,411.79 507.57,413.69" fill="none" stroke="#F4654E" stroke-width="1.6" stroke-linejoin="round" stroke-linecap="butt"/>
<path d="M416.97 383.85V409.35M414.27 383.85h5.4M414.27 409.35h5.4" stroke="#111" stroke-width="1.2" fill="none"/>
<rect x="414.57" y="394.2" width="4.8" height="4.8" fill="none" stroke="#111" stroke-width="1.2"/>
<path d="M422.3 374.35V396.05M419.6 374.35h5.4M419.6 396.05h5.4" stroke="#111" stroke-width="1.2" fill="none"/>
<rect x="419.9" y="382.53" width="4.8" height="4.8" fill="none" stroke="#111" stroke-width="1.2"/>
<path d="M427.63 298.66V365.13M424.93 298.66h5.4M424.93 365.13h5.4" stroke="#111" stroke-width="1.2" fill="none"/>
<rect x="425.23" y="329.9" width="4.8" height="4.8" fill="none" stroke="#111" stroke-width="1.2"/>
<path d="M432.96 246.85V343.7M430.26 246.85h5.4M430.26 343.7h5.4" stroke="#111" stroke-width="1.2" fill="none"/>
<rect x="430.56" y="292.74" width="4.8" height="4.8" fill="none" stroke="#111" stroke-width="1.2"/>
<path d="M438.29 260.41V312.23M435.59 260.41h5.4M435.59 312.23h5.4" stroke="#111" stroke-width="1.2" fill="none"/>
<rect x="435.89" y="283.51" width="4.8" height="4.8" fill="none" stroke="#111" stroke-width="1.2"/>
<path d="M443.62 254.99V327.42M440.92 254.99h5.4M440.92 327.42h5.4" stroke="#111" stroke-width="1.2" fill="none"/>
<rect x="441.22" y="289.21" width="4.8" height="4.8" fill="none" stroke="#111" stroke-width="1.2"/>
<path d="M448.95 267.74V336.91M446.25 267.74h5.4M446.25 336.91h5.4" stroke="#111" stroke-width="1.2" fill="none"/>
<rect x="446.55" y="300.06" width="4.8" height="4.8" fill="none" stroke="#111" stroke-width="1.2"/>
<path d="M454.27 263.67V334.74M451.57 263.67h5.4M451.57 334.74h5.4" stroke="#111" stroke-width="1.2" fill="none"/>
<rect x="451.87" y="296.8" width="4.8" height="4.8" fill="none" stroke="#111" stroke-width="1.2"/>
<path d="M459.6 280.49V362.41M456.9 280.49h5.4M456.9 362.41h5.4" stroke="#111" stroke-width="1.2" fill="none"/>
<rect x="457.2" y="319.05" width="4.8" height="4.8" fill="none" stroke="#111" stroke-width="1.2"/>
<path d="M470.26 358.89V409.35M467.56 358.89h5.4M467.56 409.35h5.4" stroke="#111" stroke-width="1.2" fill="none"/>
<rect x="467.86" y="381.45" width="4.8" height="4.8" fill="none" stroke="#111" stroke-width="1.2"/>
<path d="M475.59 371.91V402.84M472.89 371.91h5.4M472.89 402.84h5.4" stroke="#111" stroke-width="1.2" fill="none"/>
<rect x="473.19" y="384.97" width="4.8" height="4.8" fill="none" stroke="#111" stroke-width="1.2"/>
</g>
<path d="M299.05 226.5H545.6V416.4H299.05Z" fill="none" stroke="#858585" stroke-width="1.1"/>
<path d="M299.05 416.4h-2.4M299.05 389.27h-2.4M299.05 362.14h-2.4M299.05 335.01h-2.4M299.05 307.89h-2.4M299.05 280.76h-2.4M299.05 253.63h-2.4M299.05 226.5h-2.4M299.05 416.4v2.4M332.36 416.4v2.4M365.67 416.4v2.4M398.98 416.4v2.4M432.29 416.4v2.4M465.6 416.4v2.4M498.91 416.4v2.4M532.22 416.4v2.4" stroke="#858585" stroke-width="1" fill="none"/>
<text x="292.75" y="420.1" text-anchor="end" font-size="10.3">0</text>
<text x="292.75" y="392.97" text-anchor="end" font-size="10.3">1</text>
<text x="292.75" y="365.84" text-anchor="end" font-size="10.3">2</text>
<text x="292.75" y="338.71" text-anchor="end" font-size="10.3">3</text>
<text x="292.75" y="311.59" text-anchor="end" font-size="10.3">4</text>
<text x="292.75" y="284.46" text-anchor="end" font-size="10.3">5</text>
<text x="292.75" y="257.33" text-anchor="end" font-size="10.3">6</text>
<text x="292.75" y="230.2" text-anchor="end" font-size="10.3">7</text>
<text x="299.45" y="432.6" text-anchor="middle" font-size="10.3">0</text>
<text x="332.76" y="432.6" text-anchor="middle" font-size="10.3">50</text>
<text x="366.07" y="432.6" text-anchor="middle" font-size="10.3">100</text>
<text x="399.38" y="432.6" text-anchor="middle" font-size="10.3">150</text>
<text x="432.69" y="432.6" text-anchor="middle" font-size="10.3">200</text>
<text x="466" y="432.6" text-anchor="middle" font-size="10.3">250</text>
<text x="499.31" y="432.6" text-anchor="middle" font-size="10.3">300</text>
<text x="532.62" y="432.6" text-anchor="middle" font-size="10.3">350</text>
<text x="306.65" y="240.7" font-size="12.5">(d)</text>
</g>
<text transform="translate(15.5,102.75) rotate(-90)" text-anchor="middle" font-size="11.9">LAI (m<tspan font-size="7.68" dy="-6.9">2</tspan><tspan dy="6.9">/m</tspan><tspan font-size="7.68" dy="-6.9">2</tspan><tspan dy="6.9">)</tspan></text>
<text transform="translate(15.9,323.15) rotate(-90)" text-anchor="middle" font-size="12.45">LAI (m<tspan font-size="8.03" dy="-6.9">2</tspan><tspan dy="6.9">/m</tspan><tspan font-size="8.03" dy="-6.9">2</tspan><tspan dy="6.9">)</tspan></text>
<text x="156.14" y="446.7" text-anchor="middle" font-size="11.5">DOY</text>
<text x="422.3" y="447.0" text-anchor="middle" font-size="11.5">DOY</text>
<path d="M42.6 41.7H71.1" stroke="#3AA3B4" stroke-width="1.6"/>
<path d="M42.6 57H71.1" stroke="#FFAE35" stroke-width="1.6"/>
<path d="M42.6 69.6H71.1" stroke="#47358C" stroke-width="1.6"/>
<path d="M42.6 82.5H71.1" stroke="#F4654E" stroke-width="1.6"/>
<text x="73.6" y="43.3" font-size="10.5">LSTM<tspan font-size="8.8" dy="5.2">fusion</tspan></text>
<text x="73.6" y="60.8" font-size="10.4">GLASS</text>
<text x="73.6" y="73.8" font-size="10.4">MODIS</text>
<text x="73.6" y="86.8" font-size="10.4">GEOV2</text>
<text x="73.6" y="99.0" font-size="10.4">Reference LAI</text>
<path d="M57 91V100.5M54.5 91h5M54.5 100.5h5" stroke="#111" stroke-width="1.2" fill="none"/>
<rect x="54.6" y="93.5" width="4.8" height="4.8" fill="none" stroke="#111" stroke-width="1.2"/>
</svg>
</body></html>
